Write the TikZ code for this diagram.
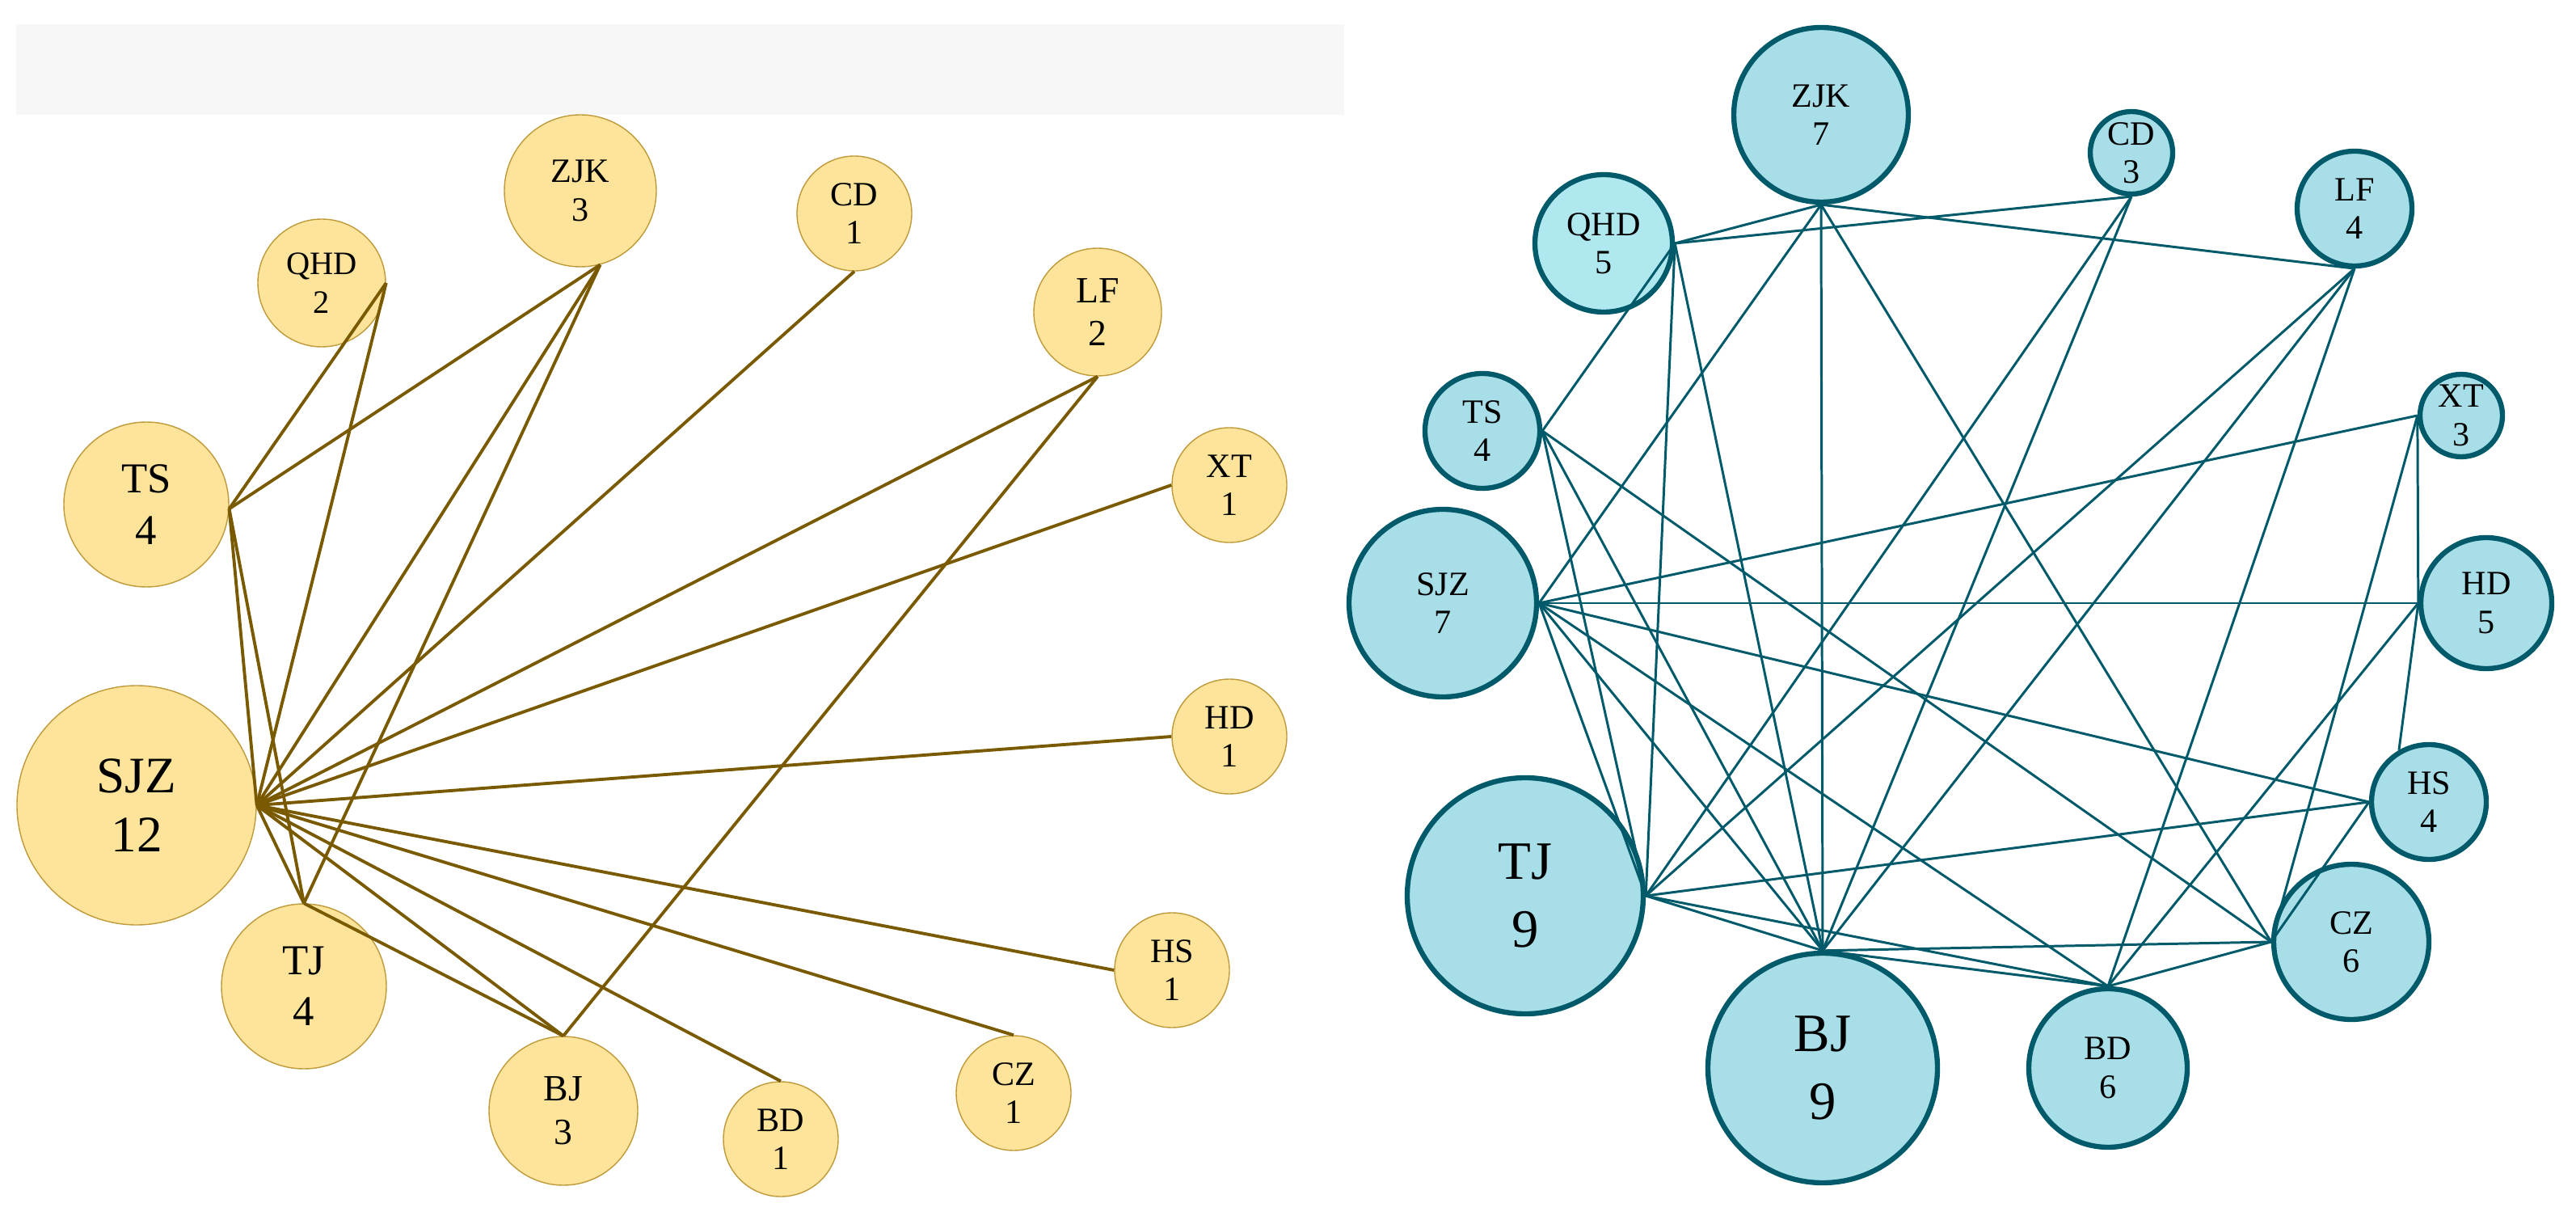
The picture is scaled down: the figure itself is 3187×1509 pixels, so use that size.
\documentclass[tikz,border=0pt]{standalone}
\usepackage{fontspec}
\setmainfont{Liberation Serif}
\definecolor{yfill}{HTML}{FDE49A}
\definecolor{ydraw}{HTML}{BF9A3A}
\definecolor{yedge}{HTML}{7A5A00}
\definecolor{bfill}{HTML}{A8DEE8}
\definecolor{bfillq}{HTML}{B0E8F0}
\definecolor{bdraw}{HTML}{005A6A}
\begin{document}
\begin{tikzpicture}[x=0.1mm,y=-0.1mm,
  yn/.style={circle,fill=yfill,draw=ydraw,line width=0.4pt,inner sep=0pt,align=center,font=\fontsize{12}{13.5}\selectfont},
  bn/.style={circle,fill=bfill,draw=bdraw,line width=1.8pt,inner sep=0pt,align=center,font=\fontsize{12}{13.5}\selectfont},
  ye/.style={draw=yedge,line width=1.1pt},
  be/.style={draw=bdraw,line width=0.85pt}]
\useasboundingbox (0,0) rectangle (3187,1509);
\fill[black!3] (20,30) rectangle (1663,142);
% left graph nodes
\node[yn,minimum size=29.6mm,font=\fontsize{18}{21}\selectfont] (SJZ) at (169,996) {SJZ\\12};
\node[yn,minimum size=20.4mm,font=\fontsize{15}{18}\selectfont] (TS) at (181,624) {TS\\4};
\node[yn,minimum size=15.8mm,font=\fontsize{11.5}{13.5}\selectfont] (QHD) at (398,350) {QHD\\2};
\node[yn,minimum size=18.8mm] (ZJK) at (718,236) {ZJK\\3};
\node[yn,minimum size=14.2mm] (CD) at (1057,264) {CD\\1};
\node[yn,minimum size=15.8mm,font=\fontsize{13}{15}\selectfont] (LF) at (1358,386) {LF\\2};
\node[yn,minimum size=14.2mm] (XT) at (1521,600) {XT\\1};
\node[yn,minimum size=14.2mm] (HD) at (1521,911) {HD\\1};
\node[yn,minimum size=14.2mm] (HS) at (1450,1200) {HS\\1};
\node[yn,minimum size=14.2mm] (CZ) at (1254,1352) {CZ\\1};
\node[yn,minimum size=14.2mm] (BD) at (966,1409) {BD\\1};
\node[yn,minimum size=18.4mm,font=\fontsize{13}{15.5}\selectfont] (BJ) at (697,1374) {BJ\\3};
\node[yn,minimum size=20.4mm,font=\fontsize{15}{18}\selectfont] (TJ) at (376,1220) {TJ\\4};
% left edges
\draw[ye] (SJZ.east) -- (TS.-3);
\draw[ye] (TS.-3) -- (TJ.north);
\draw[ye] (TS.-3) -- (QHD.east);
\draw[ye] (TS.-3) -- (ZJK.-75);
\draw[ye] (SJZ.east) -- (QHD.east);
\draw[ye] (SJZ.east) -- (ZJK.-75);
\draw[ye] (TJ.north) -- (ZJK.-75);
\draw[ye] (SJZ.east) -- (CD.south);
\draw[ye] (SJZ.east) -- (LF.south);
\draw[ye] (SJZ.east) -- (XT.west);
\draw[ye] (SJZ.east) -- (HD.west);
\draw[ye] (SJZ.east) -- (HS.west);
\draw[ye] (SJZ.east) -- (CZ.north);
\draw[ye] (SJZ.east) -- (BD.north);
\draw[ye] (SJZ.east) -- (BJ.north);
\draw[ye] (SJZ.east) -- (TJ.north);
\draw[ye] (TJ.north) -- (BJ.north);
\draw[ye] (BJ.north) -- (LF.south);
% right graph nodes
\node[bn,minimum size=21.6mm] (rZJK) at (2253,142) {ZJK\\7};
\node[bn,minimum size=10.2mm] (rCD) at (2637,189) {CD\\3};
\node[bn,minimum size=14.2mm] (rLF) at (2913,258) {LF\\4};
\node[bn,fill=bfillq,minimum size=17mm] (rQHD) at (1984,301) {QHD\\5};
\node[bn,minimum size=14.2mm] (rTS) at (1834,533) {TS\\4};
\node[bn,minimum size=10.2mm] (rXT) at (3045,514) {XT\\3};
\node[bn,minimum size=23.2mm] (rSJZ) at (1785,746) {SJZ\\7};
\node[bn,minimum size=16.2mm] (rHD) at (3076,746) {HD\\5};
\node[bn,minimum size=14.2mm] (rHS) at (3005,992) {HS\\4};
\node[bn,minimum size=29.2mm,font=\fontsize{19}{24}\selectfont] (rTJ) at (1887,1108) {TJ\\9};
\node[bn,minimum size=19.2mm] (rCZ) at (2909,1165) {CZ\\6};
\node[bn,minimum size=28.4mm,font=\fontsize{19}{24}\selectfont] (rBJ) at (2255,1321) {BJ\\9};
\node[bn,minimum size=19.6mm] (rBD) at (2608,1321) {BD\\6};
% right edges
\draw[be] (rQHD.east) -- (rZJK.south);
\draw[be] (rQHD.east) -- (rCD.south);
\draw[be] (rZJK.south) -- (rLF.south);
\draw[be] (rQHD.east) -- (rTS.east);
\draw[be] (rQHD.east) -- (rTJ.east);
\draw[be] (rQHD.east) -- (rBJ.north);
\draw[be] (rZJK.south) -- (rSJZ.east);
\draw[be] (rZJK.south) -- (rBJ.north);
\draw[be] (rZJK.south) -- (rCZ.west);
\draw[be] (rCD.south) -- (rBJ.north);
\draw[be] (rCD.south) -- (rTJ.east);
\draw[be] (rLF.south) -- (rTJ.east);
\draw[be] (rLF.south) -- (rBJ.north);
\draw[be] (rLF.south) -- (rBD.north);
\draw[be] (rXT.west) -- (rSJZ.east);
\draw[be] (rXT.west) -- (rHD.west);
\draw[be] (rXT.west) -- (rCZ.west);
\draw[be] (rHD.west) -- (rSJZ.east);
\draw[be] (rHD.west) -- (rBD.north);
\draw[be] (rHD.west) -- (rHS.120);
\draw[be] (rHS.west) -- (rSJZ.east);
\draw[be] (rHS.west) -- (rTJ.east);
\draw[be] (rHS.west) -- (rCZ.west);
\draw[be] (rTS.east) -- (rTJ.east);
\draw[be] (rTS.east) -- (rBJ.north);
\draw[be] (rTS.east) -- (rCZ.west);
\draw[be] (rSJZ.east) -- (rTJ.east);
\draw[be] (rSJZ.east) -- (rBJ.north);
\draw[be] (rSJZ.east) -- (rBD.north);
\draw[be] (rTJ.east) -- (rBJ.north);
\draw[be] (rTJ.east) -- (rBD.north);
\draw[be] (rBJ.north) -- (rCZ.west);
\draw[be] (rBJ.north) -- (rBD.north);
\draw[be] (rBD.north) -- (rCZ.west);
\end{tikzpicture}
\end{document}
